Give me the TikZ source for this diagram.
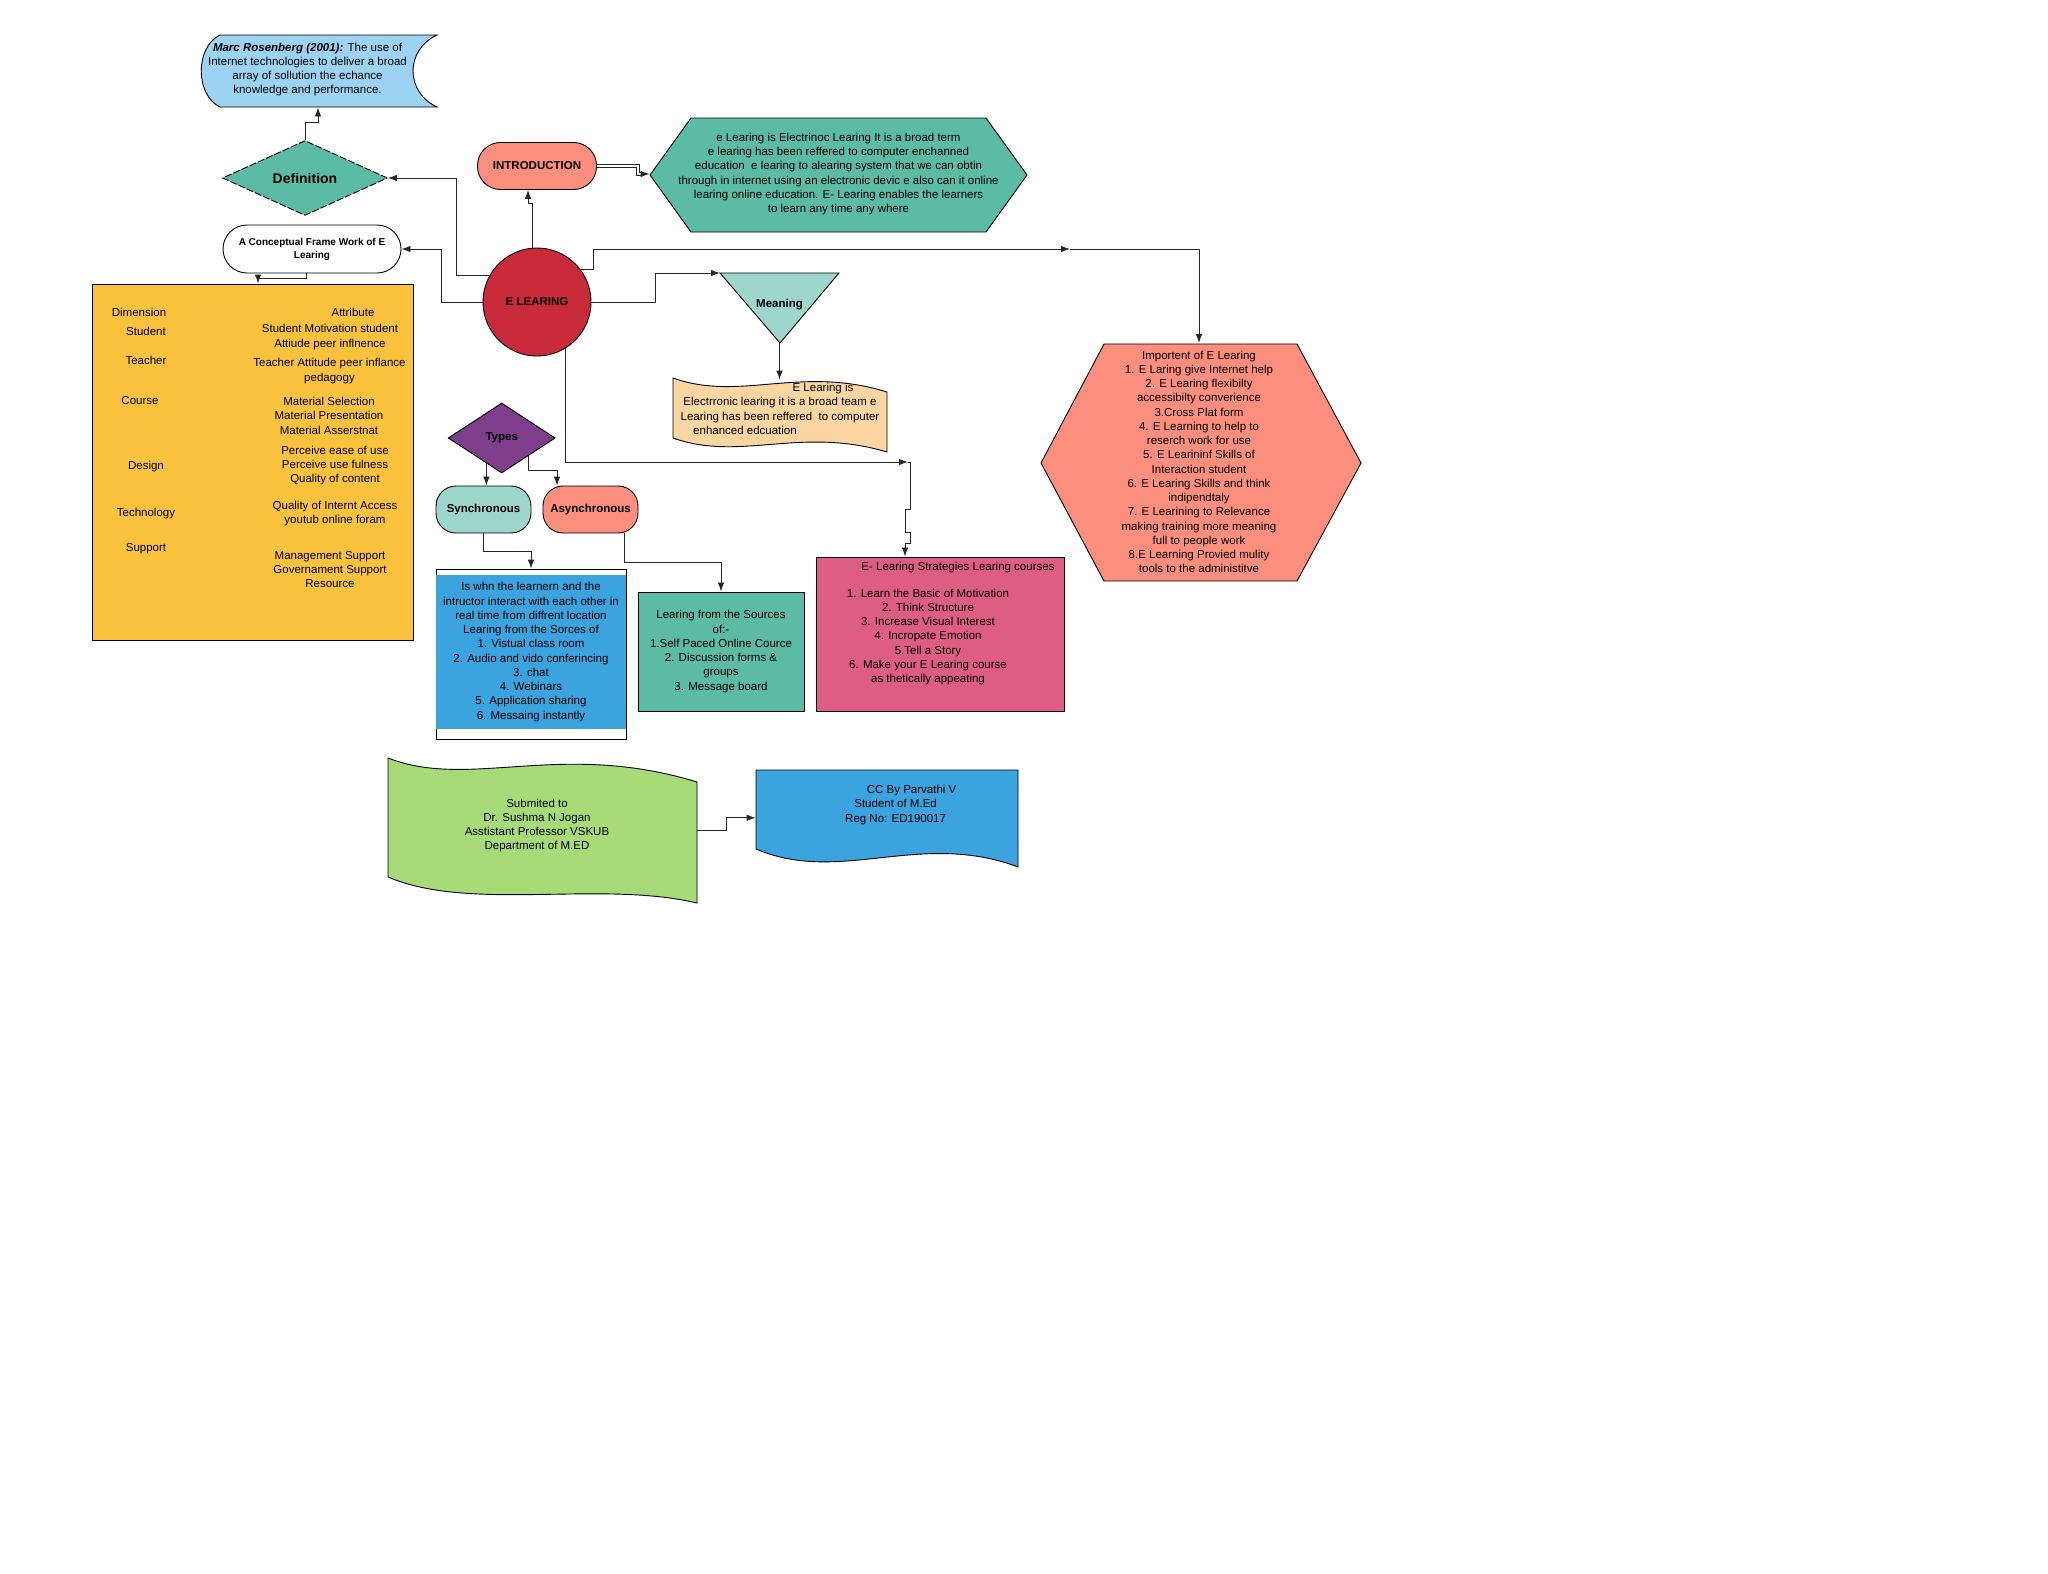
\documentclass[tikz,border=0pt]{standalone}
\usepackage{fontspec}
\setmainfont{Liberation Sans}
\usetikzlibrary{shapes.geometric,arrows.meta,scopes}
\definecolor{marcblue}{HTML}{9DD3F2}
\definecolor{tealc}{HTML}{5BBBA5}
\definecolor{salmonc}{HTML}{FC8E7D}
\definecolor{elred}{HTML}{C92B3B}
\definecolor{purplec}{HTML}{7E3E8C}
\definecolor{yellowc}{HTML}{FBC23D}
\definecolor{skyc}{HTML}{3BA3DD}
\definecolor{pinkc}{HTML}{DD5D83}
\definecolor{greenc}{HTML}{A6DB78}
\definecolor{tanc}{HTML}{FCD6A2}
\definecolor{mintc}{HTML}{9DD7CB}

\begin{document}
\begin{tikzpicture}[x=1pt,y=-1pt,line width=0.9pt,
    >={Latex[length=9pt,width=6.5pt]},
    txt/.style={font=\fontsize{11.5}{14.25}\selectfont,align=center,inner sep=0pt},
    lbl/.style={font=\fontsize{11.5}{14}\selectfont\bfseries,align=center,inner sep=0pt},
    pill/.style={rectangle,rounded corners=20pt,draw=black,lbl,minimum width=95pt,minimum height=47pt},
    dia/.style={diamond,draw=black,lbl},
    blk/.style={rectangle,draw=black,inner sep=0pt},
    con/.style={draw=black!85,line width=0.9pt},
]
    \fill[white] (0,0) rectangle (2048,1574);
    \useasboundingbox (0,0) rectangle (2048,1574);

    % shapes drawn straight
    \filldraw[fill=marcblue] (220,35) -- (437,35) .. controls (405,50) and (405,92) .. (437,107)
        -- (220,107) .. controls (195,95) and (195,47) .. (220,35) -- cycle;
    \filldraw[fill=tealc] (650,175) -- (691,118) -- (986,118) -- (1027,175) -- (986,232) -- (691,232) -- cycle;
    \filldraw[fill=salmonc] (1041,463) -- (1104,344) -- (1297,344) -- (1361,463) -- (1297,581) -- (1104,581) -- cycle;
    \filldraw[fill=mintc] (720,273) -- (839,273) -- (780,343) -- cycle;
    \filldraw[fill=tanc] (673,378) .. controls (740,402) and (800,365) .. (887,392)
        -- (887,452) .. controls (800,426) and (740,462) .. (673,438) -- cycle;
    \filldraw[fill=greenc] (388,758) .. controls (470,790) and (560,740) .. (697,782)
        -- (697,903) .. controls (600,880) and (470,912) .. (388,877) -- cycle;
    \filldraw[fill=skyc] (756,770) -- (1018,770) -- (1018,867) .. controls (920,830) and (840,885) .. (756,849) -- cycle;

    % nodes
    \node[circle,draw=black,fill=elred,minimum size=108pt,lbl] (el) at (537,302) {E LEARING};
    \node[rectangle,rounded corners=23pt,draw=black,fill=salmonc,lbl,minimum width=119pt,minimum height=47pt] (intro) at (537,166) {INTRODUCTION};
    \node[dia,fill=tealc,dash pattern=on 7pt off 2pt,inner sep=0pt,minimum width=165pt,minimum height=70pt,
        font=\fontsize{14}{16}\selectfont\bfseries] (def) at (305,178) {Definition};
    \node[rectangle,rounded corners=24pt,draw=black,fill=white,minimum width=178pt,minimum height=48pt,
        inner sep=0pt,align=center,font=\fontsize{10}{13}\selectfont\bfseries] (frame) at (312,249) {A Conceptual Frame Work of E\\Learing};
    \node[blk,fill=yellowc,minimum width=321pt,minimum height=356pt] (tab) at (252.5,462) {};
    \node[txt,minimum height=75pt] (marc) at (307.5,69.5) {\textbf{\textit{Marc Rosenberg (2001):}} The use of\\Internet technologies to deliver a broad\\array of sollution the echance\\knowledge and performance.};
    \node[txt,minimum width=377pt] (ihex) at (838.5,174) {e Learing is Electrinoc Learing It is a broad term\\e learing has been reffered to computer enchanned\\education\ \ e learing to alearing system that we can obtin\\through in internet using an electronic devic e also can it online\\learing online education. E- Learing enables the learners\\to learn any time any where};
    \node[lbl,minimum height=76pt] (mean) at (779.5,305) {Meaning};
    \coordinate (meanl) at (720,273);
    \node[txt,minimum height=58pt] (mdoc) at (780,409) {\hspace*{86pt}E Learing is\\Electrronic learing it is a broad team e\\Learing has been reffered\ \ to computer\\enhanced edcuation\hspace*{70pt}};
    \node[txt,minimum height=237pt] (imp) at (1199,462) {Importent of E Learing\\1. E Laring give Internet help\\2. E Learing flexibilty\\accessibilty converience\\3.Cross Plat form\\4. E Learning to help to\\reserch work for use\\5. E Learininf Skills of\\Interaction student\\6. E Learing Skills and think\\indipendtaly\\7. E Learining to Relevance\\making training more meaning\\full to people work\\8.E Learning Provied mulity\\tools to the administitve};
    \node[dia,fill=purplec,inner sep=0pt,minimum width=107pt,minimum height=70pt] (types) at (501.7,438) {Types};
    \node[pill,fill=mintc] (sync) at (483.5,509.5) {Synchronous};
    \node[pill,fill=salmonc] (async) at (590.5,509.5) {Asynchronous};
    \node[blk,fill=white,minimum width=190pt,minimum height=170pt] (sbox) at (531,654) {};
    \fill[skyc] ([xshift=0.5pt,yshift=-6pt]sbox.north west) rectangle ([xshift=-0.5pt,yshift=10pt]sbox.south east);
    \node[txt] (stxt) at (531,652) {Is whn the learnern and the\\intructor interact with each other in\\real time from diffrent location\\Learing from the Sorces of\\1. Vistual class room\\2. Audio and vido conferincing\\3. chat\\4. Webinars\\5. Application sharing\\6. Messaing instantly};
    \node[blk,fill=tealc,minimum width=166pt,minimum height=119pt,txt] (abox) at (721,651.5) {Learing from the Sources\\of:-\\1.Self Paced Online Cource\\2. Discussion forms \&\\groups\\3. Message board};
    \node[blk,fill=pinkc,minimum width=248pt,minimum height=154pt] (strat) at (940,634) {};
    \node[txt] (shead) at (958,567.7) {E- Learing Strategies Learing courses};
    \node[txt] (slist) at (928,637) {1. Learn the Basic of Motivation\\2. Think Structure\\3. Increase Visual Interest\\4. Incropate Emotion\\5.Tell a Story\\6. Make your E Learing course\\as thetically appeating};
    \node[txt,minimum width=320pt] (sub) at (537,825.5) {Submited to\\Dr. Sushma N Jogan\\Asstistant Professor VSKUB\\Department of M.ED};
    \node[txt,minimum width=279pt] (cc) at (895.6,804.8) {\hspace*{32pt}CC By Parvathi V\\Student of M.Ed\\Reg No: ED190017};

    % table of the frame work
    \foreach \name/\x/\y in {Dimension/139/312,Student/146/331,Teacher/146/360,Course/140/401,
        Design/146/467,Technology/146/514,Support/146/549}
        \node[txt] (d-\name) at (\x,\y) {\name};
    \node[txt] (a-head) at (353,312) {Attribute};
    \node[txt] (a-stu) at (330,337) {Student Motivation student\\Attiude peer inflnence};
    \node[txt] (a-tea) at (329.5,371) {Teacher Attitude peer inflance\\pedagogy};
    \node[txt] (a-cou) at (329,415.7) {Material Selection\\Material Presentation\\Material Asserstnat};
    \node[txt] (a-des) at (335,465.7) {Perceive ease of use\\Perceive use fulness\\Quality of content};
    \node[txt] (a-tec) at (335,513.7) {Quality of Internt Access\\youtub online foram};
    \node[txt] (a-sup) at (330,569.7) {Management Support\\Governament Support\\Resource};

    % connectors
    \coordinate (impmid) at (1070,249);
    \coordinate (stratmid) at (908,462);
    {[con,->]
        \draw ([xshift=-5pt]el.north) -- ++(0,-44) -- ++(-4,0) -- ([xshift=-9pt]intro.south);
        \draw (el.151) -- ++(-33,0) |- (def.east);
        \draw (el.west) -- ++(-41,0) |- (frame.east);
        \draw ([xshift=-6pt]frame.south) -- ++(0,5) -| ([xshift=5.5pt]tab.north);
        \draw (def.north) -- ++(0,-18) -| ([xshift=10.5pt]marc.south);
        \draw[double=white,double distance=1.6pt,line width=0.9pt] (intro.east) -- ++(41,0) |- (ihex.west);
        \draw (el.east) -- ++(64,0) |- (meanl);
        \draw (mean.south) -- (mean.south |- mdoc.north);
        \draw (el.37) -- ++(13,0) |- (impmid);
        \draw (impmid) -| (imp.north);
        \draw (el.-58) |- (stratmid);
        \draw (stratmid) -- ++(2,0) -- ++(0,47) -- ++(-5,0) -- ++(0,23) -- ++(5,0) -- ++(0,11) -- ++(-5,0)
            -- ([xshift=-35pt]strat.north);
        \draw (types.-121) -- (types.-121 |- sync.north);
        \draw (types.-33) -- ++(0,15) -| ([xshift=-33.5pt]async.north);
        \draw (sync.south) -- ++(0,18) -| (sbox.north);
        \draw ([xshift=33.5pt]async.south) -- ++(0,29) -| (abox.north);
        \draw ([yshift=-4.5pt]sub.east) -- ++(29,0) |- ([yshift=-13pt]cc.west);
    }
\end{tikzpicture}
\end{document}
